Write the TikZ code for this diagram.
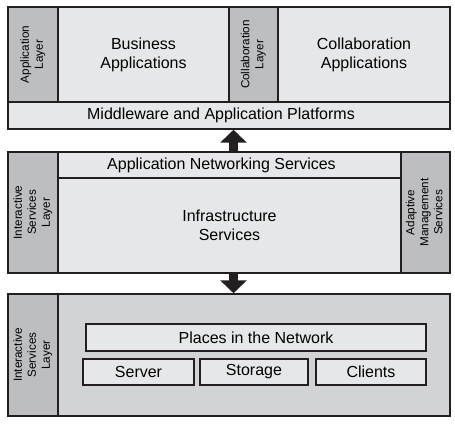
\documentclass[tikz,border=0pt]{standalone}
\usepackage{graphicx}
\usepackage{fontspec}
\setmainfont{Liberation Sans}
\usepackage{tikz}
\usetikzlibrary{arrows.meta}

\definecolor{linecol}{HTML}{231F20}
\definecolor{darkfill}{HTML}{BDBEC0}
\definecolor{lightfill}{HTML}{E6E7E8}
\definecolor{midfill}{HTML}{D1D3D4}

% rotated label in the narrow grey columns
\newcommand{\vlab}[1]{\rotatebox{90}{\begin{tabular}{@{}c@{}}#1\end{tabular}}}

\begin{document}
\begin{tikzpicture}[x=1pt,y=-1pt,
    layercol/.style={draw=linecol, fill=darkfill, line width=1.5pt, inner sep=0pt,
      font=\fontsize{11.7}{14}\selectfont},
    panel/.style={draw=linecol, fill=lightfill, line width=1.5pt, inner sep=0pt,
      align=center, font=\fontsize{16}{19}\selectfont},
    bigarrow/.style={linecol, line width=9pt,
      -{Triangle[width=26pt,length=13pt]}}]
   \useasboundingbox (0,0) rectangle (455,425);

   % application tier
   \node[layercol, minimum width=50, minimum height=95] (applayer) at (33,54.5) {\vlab{Application\\Layer}};
   \node[panel, minimum width=171, minimum height=95] (bizapps) at (143.5,54.5) {Business\\Applications};
   \node[layercol, minimum width=49, minimum height=95] (collablayer) at (253.5,54.5) {\vlab{Collaboration\\Layer}};
   \node[panel, minimum width=172, minimum height=95] (collabapps) at (364,54.5) {Collaboration\\Applications};
   \node[panel, minimum width=442, minimum height=27] (middleware) at (229,115.5) {\hspace*{-16pt}Middleware and Application Platforms};

   % services tier
   \node[layercol, minimum width=50, minimum height=121] (islayer) at (33,212.5) {\vlab{Interactive\\Services\\Layer}};
   \node[panel, minimum width=343, minimum height=26] (appnet) at (229.5,165) {\hspace*{-16pt}Application Networking Services};
   \node[panel, minimum width=343, minimum height=95] (infra) at (229.5,225.5) {Infrastructure\\Services};
   \node[layercol, minimum width=49, minimum height=121] (adaptive) at (425.5,212.5) {\vlab{Adaptive\\Management\\Services}};

   % network tier
   \node[layercol, minimum width=50, minimum height=122] (netlayer) at (33,355) {\vlab{Interactive\\Services\\Layer}};
   \node[panel, fill=midfill, minimum width=392, minimum height=122] (network) at (254,355) {};
   \node[panel, minimum width=340, minimum height=27] (places) at (256,337.5) {Places in the Network};
   \node[panel, minimum width=111, minimum height=26] (server) at (138.5,372) {Server};
   \node[panel, minimum width=108, minimum height=26] (storage) at (254,372) {Storage};
   \node[panel, minimum width=110, minimum height=26] (clients) at (371,372) {Clients};

   \draw[bigarrow] ([xshift=4pt]appnet.north) -- ([xshift=4pt]appnet.north |- middleware.south);
   \draw[bigarrow] ([xshift=4pt]infra.south) -- ([xshift=4pt]infra.south |- network.north);
\end{tikzpicture}
\end{document}
